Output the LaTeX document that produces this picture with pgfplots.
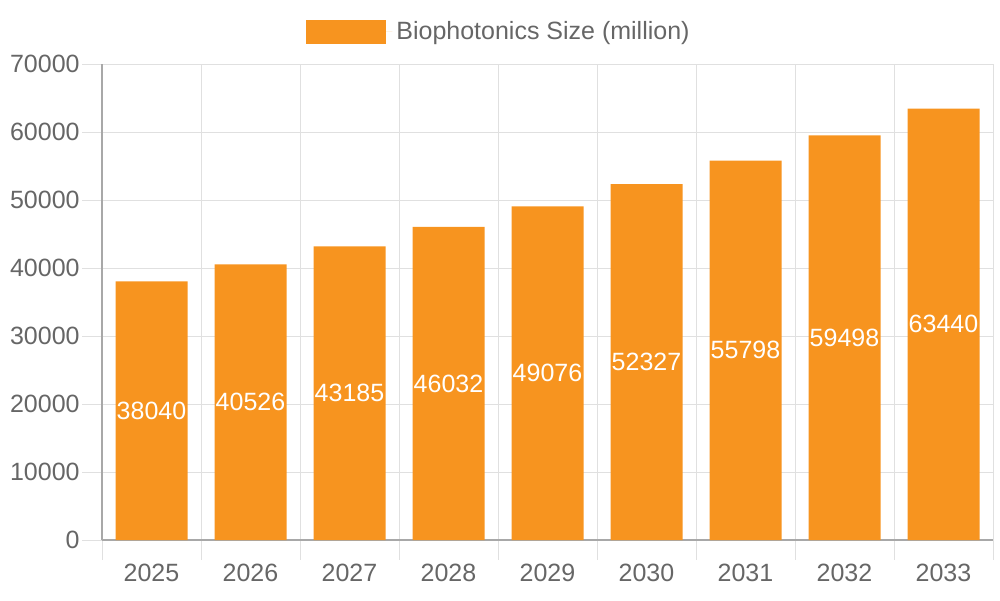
\documentclass[border=0pt]{standalone}
\usepackage{pgfplots}
\pgfplotsset{compat=1.18}
\usepackage{fontspec}
\setmainfont{Liberation Sans}
\definecolor{barorange}{HTML}{F7941F}
\definecolor{gridgray}{HTML}{E0E0E0}
\definecolor{axisgray}{HTML}{A8A8A8}
\definecolor{textgray}{HTML}{666666}
\begin{document}
\begin{tikzpicture}
\path[use as bounding box] (0,0) rectangle (500pt,300pt);
\begin{axis}[
    at={(51pt,30pt)}, anchor=south west,
    scale only axis, width=445.5pt, height=238pt,
    xmin=0, xmax=9, ymin=0, ymax=70000,
    ytick={0,10000,...,70000},
    scaled y ticks=false,
    xtick={0.5,1.5,...,8.5},
    xticklabels={2025,2026,2027,2028,2029,2030,2031,2032,2033},
    minor xtick={0,1,...,9},
    ymajorgrids, xminorgrids,
    grid style={gridgray, line width=0.5pt},
    minor grid style={gridgray, line width=0.5pt},
    axis lines=left,
    axis line style={-, axisgray, line width=0.7pt},
    tick align=outside,
    major tick length=10pt, minor tick length=10pt,
    tick style={gridgray, line width=0.5pt},
    major x tick style={draw=none},
    /pgf/number format/assume math mode=true,
    /pgf/number format/1000 sep={},
    ticklabel style={font=\fontsize{12.5}{15}\selectfont, text=textgray},
    yticklabel style={inner sep=1pt},
    xticklabel style={inner sep=2pt},
    legend style={at={(axis description cs:0.4467,1)}, anchor=center, yshift=16pt,
        draw=none, fill=none, font=\fontsize{12.5}{15}\selectfont, text=textgray},
    legend image code/.code={\fill[barorange] (0pt,-6pt) rectangle (40pt,6pt);
        \path (0pt,0pt) -- (43pt,0pt);},
]
\addplot[ybar, bar width=36pt, fill=barorange, draw=none,
    nodes near coords,
    visualization depends on=rawy \as \rawy,
    every node near coord/.append style={anchor=center, text=white,
        font=\fontsize{12.5}{15}\selectfont,
        shift={(axis direction cs:0,-\rawy/2)}},
] coordinates {
    (0.5,38040) (1.5,40526) (2.5,43185) (3.5,46032) (4.5,49076)
    (5.5,52327) (6.5,55798) (7.5,59498) (8.5,63440)
};
\addlegendentry{Biophotonics Size (million)}
\end{axis}
\end{tikzpicture}
\end{document}
